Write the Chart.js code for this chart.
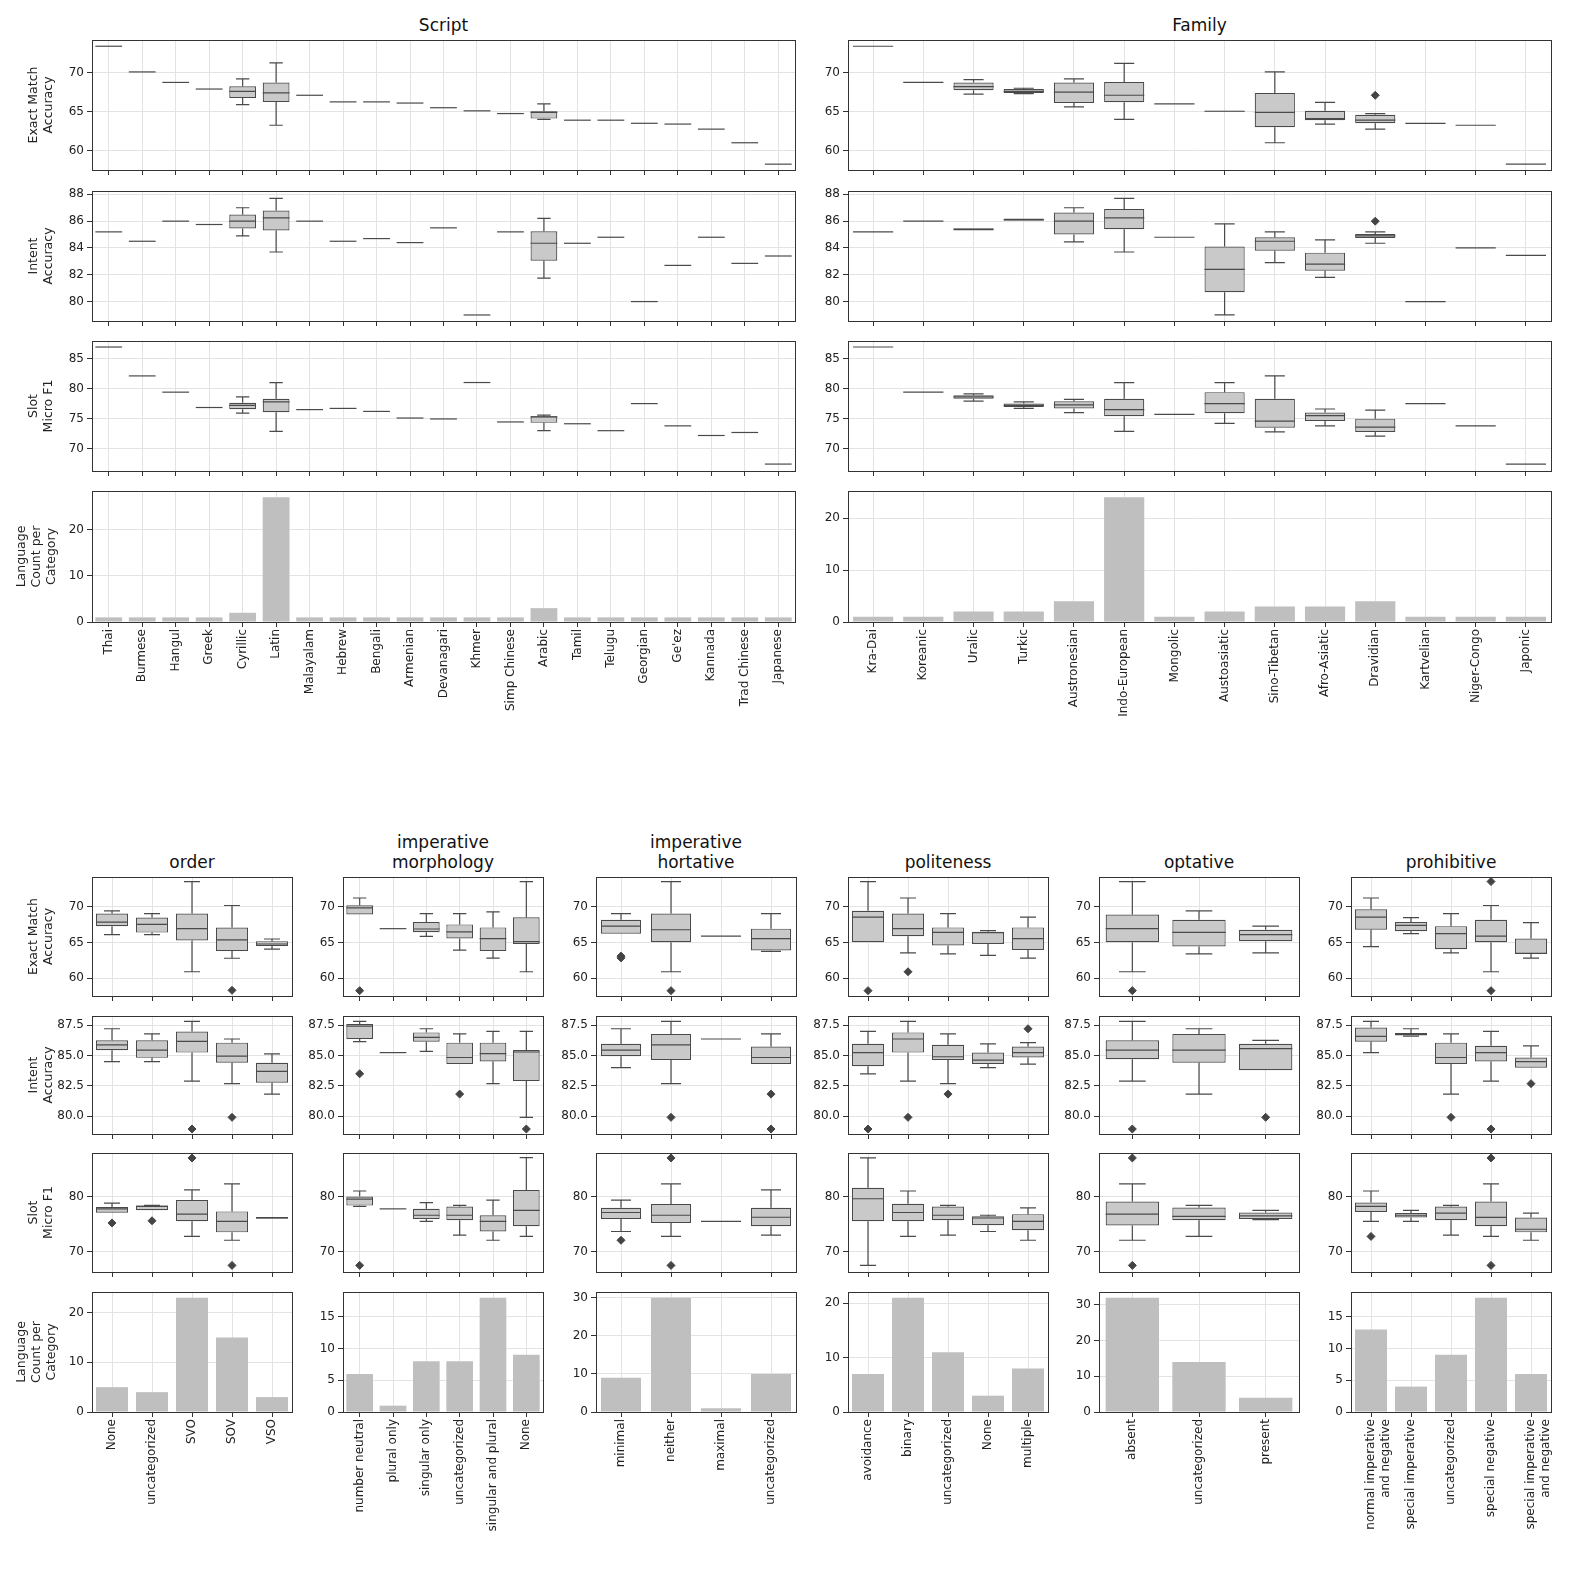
<!DOCTYPE html>
<html><head><meta charset="utf-8">
<script src="https://cdn.jsdelivr.net/npm/chart.js@4"></script>
<style>
html{overflow:hidden;width:1582px;height:1571px}
body{margin:0;background:#fff;width:1582px;height:1571px;position:relative;overflow:hidden;font-family:"DejaVu Sans",sans-serif}
canvas{position:absolute}
.t{position:absolute;font-size:17px;color:#111;text-align:center;line-height:20px;white-space:pre}
</style></head><body>
<script>
// ---------- DATA ----------
const scriptCats=["Thai","Burmese","Hangul","Greek","Cyrillic","Latin","Malayalam","Hebrew","Bengali","Armenian","Devanagari","Khmer","Simp Chinese","Arabic","Tamil","Telugu","Georgian","Ge'ez","Kannada","Trad Chinese","Japanese"];
const scriptEM=[73.4,70.1,68.75,67.9,[65.9,66.75,67.6,68.25,69.2],[63.25,66.25,67.4,68.75,71.25],67.1,66.25,66.25,66.1,65.5,65.1,64.75,[64,64.1,64.9,65.05,66],63.9,63.9,63.5,63.4,62.75,61,58.25];
const scriptIntent=[85.2,84.5,86.0,85.75,[84.9,85.45,86.0,86.5,87.0],[83.7,85.3,86.25,86.8,87.7],86.0,84.5,84.7,84.4,85.5,79.0,85.2,[81.75,83.05,84.35,85.25,86.2],84.35,84.8,80.0,82.7,84.8,82.85,83.4];
const scriptSlot=[86.9,82.1,79.4,76.85,[75.9,76.55,77.2,77.65,78.6],[72.9,76.05,77.8,78.3,81.0],76.5,76.7,76.2,75.1,74.95,81.0,74.45,[73.0,74.3,75.3,75.4,75.6],74.15,73.0,77.5,73.8,72.2,72.7,67.45];
const scriptCount=[1,1,1,1,2,27,1,1,1,1,1,1,1,3,1,1,1,1,1,1,1];

const familyCats=["Kra-Dai","Koreanic","Uralic","Turkic","Austronesian","Indo-European","Mongolic","Austoasiatic","Sino-Tibetan","Afro-Asiatic","Dravidian","Kartvelian","Niger-Congo","Japonic"];
const familyEM=[73.4,68.75,[67.25,67.75,68.2,68.75,69.1],[67.3,67.4,67.6,67.9,68.0],[65.6,66.1,67.5,68.75,69.2],[64.0,66.2,67.1,68.8,71.2],66.0,[65.0,65.0,65.05,65.1,65.1],[61.0,63.0,64.9,67.4,70.1],[63.4,63.9,64.1,65.1,66.2],[62.75,63.5,63.9,64.6,64.75],63.5,63.25,58.25];
const familyEMOut=[[10,67.1]];
const familyIntent=[85.2,86.0,[85.3,85.3,85.4,85.45,85.45],[86.05,86.05,86.1,86.2,86.2],[84.45,85.0,86.0,86.65,87.0],[83.7,85.4,86.25,86.9,87.7],84.8,[79.0,80.7,82.4,84.1,85.8],[82.9,83.8,84.5,84.8,85.2],[81.8,82.3,82.8,83.65,84.6],[84.35,84.75,84.9,85.05,85.2],80.0,84.0,83.45];
const familyIntentOut=[[10,86.0]];
const familySlot=[86.9,79.4,[77.9,78.3,78.6,78.9,79.1],[76.7,76.95,77.2,77.5,77.8],[76.0,76.7,77.3,77.9,78.2],[72.9,75.4,76.5,78.3,81.0],75.7,[74.2,75.9,77.5,79.4,81.0],[72.8,73.5,74.6,78.3,82.1],[73.8,74.6,75.5,76.0,76.6],[72.1,72.8,73.6,75.0,76.4],77.5,73.8,67.45];
const familyCount=[1,1,2,2,4,24,1,2,3,3,4,1,1,1];

const orderCats=["None","uncategorized","SVO","SOV","VSO"];
const orderEM=[[66.1,67.3,67.87,69.07,69.45],[66.1,66.4,67.55,68.5,69.07],[60.9,65.3,66.95,69.07,73.56],[62.8,63.8,65.37,67.1,70.2],[64.07,64.5,64.8,65.2,65.5]];
const orderEMOut=[[3,58.3]];
const orderIntent=[[84.5,85.43,85.88,86.25,87.2],[84.5,84.81,85.45,86.25,86.78],[82.9,85.24,86.17,86.97,87.8],[82.69,84.41,84.95,86.06,86.36],[81.83,82.77,83.7,84.41,85.13]];
const orderIntentOut=[[2,78.96],[3,79.92]];
const orderSlot=[[77.06,77.06,77.76,78.1,78.8],[77.5,77.5,78.2,78.35,78.4],[72.76,75.5,76.8,79.35,81.2],[72.06,73.5,75.5,77.3,82.3],[76.0,76.0,76.1,76.3,76.3]];
const orderSlotOut=[[0,75.2],[1,75.6],[2,87.0],[3,67.5]];
const orderCount=[5,4,23,15,3];

const morphCats=["number neutral","plural only","singular only","uncategorized","singular and plural","None"];
const morphEM=[[68.94,68.94,69.86,70.23,71.25],66.95,[65.88,66.44,66.9,67.87,69.07],[63.94,65.56,66.5,67.55,69.07],[62.82,63.8,65.56,67.13,69.3],[60.9,64.8,65.14,68.56,73.56]];
const morphEMOut=[[0,58.25]];
const morphIntent=[[86.14,86.36,87.42,87.6,87.8],85.24,[85.35,86.14,86.5,86.9,87.2],[84.3,84.3,84.84,86.06,86.78],[82.69,84.52,85.16,86.06,86.99],[79.92,82.9,85.29,85.45,86.99]];
const morphIntentOut=[[0,83.5],[3,81.83],[5,78.96]];
const morphSlot=[[78.2,78.35,79.53,80.0,81.0],77.76,[75.5,75.9,76.6,77.76,78.9],[73.0,75.7,76.6,78.2,78.4],[72.06,73.65,75.5,76.6,79.35],[72.76,74.6,77.5,81.2,87.06]];
const morphSlotOut=[[0,67.5]];
const morphCount=[6,1,8,8,18,9];

const hortCats=["minimal","neither","maximal","uncategorized"];
const hortEM=[[66.25,66.25,67.3,68.2,69.07],[60.9,65.05,66.8,69.07,73.56],65.9,[63.75,63.9,65.56,66.95,69.07]];
const hortEMOut=[[0,63.1],[0,62.85],[1,58.25]];
const hortIntent=[[84.0,84.95,85.45,85.96,87.2],[82.69,84.63,85.88,86.78,87.8],86.36,[84.3,84.3,84.84,85.74,86.78]];
const hortIntentOut=[[1,79.92],[3,81.83],[3,78.96]];
const hortSlot=[[73.65,75.94,77.1,77.94,79.35],[72.76,75.2,76.6,78.65,82.3],75.5,[73.0,74.6,76.24,77.94,81.2]];
const hortSlotOut=[[0,72.06],[1,87.0],[1,67.5]];
const hortCount=[9,30,1,10];

const poliCats=["avoidance","binary","uncategorized","None","multiple"];
const poliEM=[[65.05,65.05,68.56,69.45,73.56],[63.56,65.9,66.95,69.07,71.25],[63.4,64.6,66.44,67.13,69.07],[63.2,64.8,66.4,66.5,66.67],[62.82,63.94,65.56,67.13,68.56]];
const poliEMOut=[[0,58.25],[1,60.9]];
const poliIntent=[[83.5,84.12,85.24,85.96,86.99],[82.9,85.24,86.36,86.9,87.8],[82.69,84.63,84.9,85.88,86.78],[84.0,84.3,84.63,85.24,85.96],[84.3,84.84,85.24,85.74,86.06]];
const poliIntentOut=[[0,78.96],[1,79.92],[2,81.83],[4,87.2]];
const poliSlot=[[67.5,75.5,79.6,81.6,87.0],[72.76,75.5,77.1,78.7,81.0],[73.0,75.7,76.6,78.2,78.4],[73.65,74.8,76.1,76.4,76.6],[72.06,73.9,75.5,76.8,77.94]];
const poliSlotOut=[];
const poliCount=[7,21,11,3,8];

const optCats=["absent","uncategorized","present"];
const optEM=[[60.9,65.05,66.95,68.94,73.56],[63.4,64.44,66.44,68.2,69.45],[63.56,65.2,66.1,66.8,67.3]];
const optEMOut=[[0,58.25]];
const optIntent=[[82.9,84.7,85.45,86.25,87.8],[81.83,84.41,85.45,86.78,87.2],[83.8,83.8,85.56,85.96,86.25]];
const optIntentOut=[[0,78.96],[2,79.92]];
const optSlot=[[72.06,74.76,76.8,79.1,82.3],[72.76,75.7,76.4,78.0,78.4],[75.8,75.9,76.5,77.1,77.5]];
const optSlotOut=[[0,87.0],[0,67.5]];
const optCount=[32,14,4];

const prohCats=[["normal imperative","and negative"],"special imperative","uncategorized","special negative",["special imperative","and negative"]];
const prohEM=[[64.44,66.8,68.56,69.67,71.25],[66.25,66.6,67.4,67.9,68.5],[63.56,64.07,66.25,67.3,69.07],[60.9,65.05,65.9,68.2,70.2],[62.82,63.4,63.5,65.56,67.8]];
const prohEMOut=[[3,73.56],[3,58.25]];
const prohIntent=[[85.24,86.14,86.57,87.3,87.8],[86.6,86.65,86.75,86.85,87.2],[81.83,84.3,84.84,86.06,86.78],[82.9,84.52,85.24,85.8,86.99],[84.0,84.0,84.5,84.84,85.8]];
const prohIntentOut=[[2,79.92],[3,78.96],[4,82.69]];
const prohSlot=[[75.5,77.2,78.2,78.9,81.0],[75.5,76.2,76.6,77.0,77.5],[73.0,75.7,77.0,78.2,78.4],[72.76,74.6,76.2,79.1,82.3],[72.06,73.5,74.06,76.2,77.0]];
const prohSlotOut=[[0,72.76],[3,87.0],[3,67.5]];
const prohCount=[13,4,9,18,6];

// ---------- DRAWING ----------
Chart.defaults.font.family='"DejaVu Sans", sans-serif';
Chart.defaults.font.size=12;
Chart.defaults.color='#222';
const LW=92, TP=9;
const frame={id:'frame',afterDraw(c){const a=c.chartArea,x=c.ctx;x.save();x.strokeStyle='#333';x.lineWidth=1;x.strokeRect(Math.round(a.left)+0.5,Math.round(a.top)+0.5,Math.round(a.width),Math.round(a.height));x.restore();}};
const boxParts={id:'boxParts',afterDatasetsDraw(c){
  const st=c.config.options.plugins.boxParts&&c.config.options.plugins.boxParts.stats; if(!st)return;
  const xs=c.scales.x,ys=c.scales.y,x=c.ctx;
  const hw=(xs.getPixelForValue(1)-xs.getPixelForValue(0))*0.8/2;
  x.save();x.strokeStyle='#4a4a4a';x.lineWidth=1.2;
  st.forEach((s,i)=>{const cx=xs.getPixelForValue(i);const p=v=>ys.getPixelForValue(v);
    x.beginPath();
    x.moveTo(cx,p(s[3]));x.lineTo(cx,p(s[4]));x.moveTo(cx,p(s[1]));x.lineTo(cx,p(s[0]));
    if(s[4]>s[3]){x.moveTo(cx-hw/2,p(s[4]));x.lineTo(cx+hw/2,p(s[4]));}
    if(s[0]<s[1]){x.moveTo(cx-hw/2,p(s[0]));x.lineTo(cx+hw/2,p(s[0]));}
    x.moveTo(cx-hw,p(s[2]));x.lineTo(cx+hw,p(s[2]));
    x.stroke();});
  x.restore();}};
function norm(a){return a.map(v=>typeof v==='number'?[v,v,v,v,v]:v);}
function panel(o){
  const bottom=o.bpad||8;
  const sw=(o.yTitle&&o.yTitle.length===3)?78:66;
  const step=o.step;
  let W=LW+o.w+4,H=TP+o.h+bottom,L=o.left-LW,T=o.top-TP;
  const make=()=>{
    const cv=document.createElement('canvas');
    cv.width=W;cv.height=H;cv.style.left=L+'px';cv.style.top=T+'px';
    document.body.appendChild(cv);
    let datasets,stats=null;
    if(o.stats){stats=norm(o.stats);
      datasets=[{type:'bar',data:stats.map(s=>[s[1],s[3]]),backgroundColor:'#c9c9c9',borderColor:'#4a4a4a',borderWidth:1.2,borderSkipped:false,barPercentage:0.8,categoryPercentage:1,grouped:false,order:2},
        {type:'line',parsing:false,normalized:true,data:(o.outs||[]).map(p=>({x:p[0],y:p[1]})),showLine:false,pointStyle:'rectRot',pointRadius:4,pointBackgroundColor:'#444',pointBorderColor:'#444',order:1}];
    } else {
      datasets=[{type:'bar',data:o.counts,backgroundColor:'#bfbfbf',barPercentage:0.8,categoryPercentage:1}];
    }
    const ch=new Chart(cv,{type:'bar',data:{labels:o.cats,datasets},
      options:{responsive:false,animation:false,devicePixelRatio:1,
        layout:{padding:{top:TP,right:4,left:LW-sw,bottom:0}},
        plugins:{legend:{display:false},tooltip:{enabled:false},boxParts:{stats}},
        scales:{
          x:{type:'category',offset:true,grid:{offset:false,color:'#e3e3e3',tickColor:'#333',tickLength:5},border:{display:false},
             ticks:{display:!!o.showX,minRotation:90,maxRotation:90,autoSkip:false,padding:2,color:'#222'},
             afterFit(s){s.height=bottom;s.paddingLeft=0;s.paddingRight=0;}},
          y:{min:o.min,max:o.max,grid:{color:'#e3e3e3',tickColor:'#333',tickLength:5},border:{display:false},
             ticks:{padding:3,color:'#222',callback:v=>o.fmt?v.toFixed(1):String(Math.round(v))},
             afterBuildTicks(s){const t=[];for(let v=Math.ceil(o.min/step-1e-9)*step;v<=o.max+1e-9;v+=step)t.push({value:+v.toFixed(4)});s.ticks=t;},
             title:{display:!!o.yTitle,text:o.yTitle,padding:{top:0,bottom:4},font:{size:12.5},color:'#222'},
             afterFit(s){s.width=sw;s.paddingTop=0;s.paddingBottom=0;}}
        }},
      plugins:[frame,boxParts]});
    return [cv,ch];
  };
  for(let k=0;k<3;k++){
    const [cv,ch]=make();
    const a=ch.chartArea;
    const dl=a.left-LW, dt=a.top-TP, dw=o.w-(a.right-a.left), dh=o.h-(a.bottom-a.top);
    if(k===2||(Math.abs(dl)<0.5&&Math.abs(dt)<0.5&&Math.abs(dw)<0.5&&Math.abs(dh)<0.5))break;
    ch.destroy();cv.remove();
    L=o.left-LW-dl; T=o.top-TP-dt; W=Math.round(W+dw); H=Math.round(H+dh);
  }
}
function title(txt,cx,top){const d=document.createElement('div');d.className='t';d.textContent=txt;d.style.left=(cx-100)+'px';d.style.width='200px';d.style.top=top+'px';document.body.appendChild(d);}

const EMr={min:57.5,max:74.2};
const INr={min:78.55,max:88.25};
const SLr={min:66.3,max:87.9};
// top
const topRows=[[40,130],[191,130],[341,130],[491,131]];
const topCols=[{left:92,w:703,cats:scriptCats,em:scriptEM,emo:[],it:scriptIntent,ito:[],sl:scriptSlot,slo:[],ct:scriptCount,cmax:28.35,title:'Script'},
               {left:848,w:703,cats:familyCats,em:familyEM,emo:familyEMOut,it:familyIntent,ito:familyIntentOut,sl:familySlot,slo:[],ct:familyCount,cmax:25.2,title:'Family'}];
topCols.forEach((c,ci)=>{
  title(c.title,c.left+c.w/2,15);
  const yt=ci===0;
  panel({left:c.left,top:topRows[0][0],w:c.w,h:topRows[0][1],cats:c.cats,stats:c.em,outs:c.emo,...EMr,step:5,yTitle:yt?['Exact Match','Accuracy']:''});
  panel({left:c.left,top:topRows[1][0],w:c.w,h:topRows[1][1],cats:c.cats,stats:c.it,outs:c.ito,...INr,step:2,yTitle:yt?['Intent','Accuracy']:''});
  panel({left:c.left,top:topRows[2][0],w:c.w,h:topRows[2][1],cats:c.cats,stats:c.sl,outs:c.slo,...SLr,step:5,yTitle:yt?['Slot','Micro F1']:''});
  panel({left:c.left,top:topRows[3][0],w:c.w,h:topRows[3][1],cats:c.cats,counts:c.ct,min:0,max:c.cmax,step:10,showX:true,bpad:110,yTitle:yt?['Language','Count per','Category']:''});
});
// bottom
const botRows=[[877,119],[1016,118],[1153,119],[1292,120]];
const botCols=[
 {left:92,t:'order',cats:orderCats,em:orderEM,emo:orderEMOut,it:orderIntent,ito:orderIntentOut,sl:orderSlot,slo:orderSlotOut,ct:orderCount,cmax:24.15,cs:10},
 {left:343,t:'imperative\nmorphology',cats:morphCats,em:morphEM,emo:morphEMOut,it:morphIntent,ito:morphIntentOut,sl:morphSlot,slo:morphSlotOut,ct:morphCount,cmax:18.9,cs:5},
 {left:596,t:'imperative\nhortative',cats:hortCats,em:hortEM,emo:hortEMOut,it:hortIntent,ito:hortIntentOut,sl:hortSlot,slo:hortSlotOut,ct:hortCount,cmax:31.5,cs:10},
 {left:848,t:'politeness',cats:poliCats,em:poliEM,emo:poliEMOut,it:poliIntent,ito:poliIntentOut,sl:poliSlot,slo:poliSlotOut,ct:poliCount,cmax:22.05,cs:10},
 {left:1099,t:'optative',cats:optCats,em:optEM,emo:optEMOut,it:optIntent,ito:optIntentOut,sl:optSlot,slo:optSlotOut,ct:optCount,cmax:33.6,cs:10},
 {left:1351,t:'prohibitive',cats:prohCats,em:prohEM,emo:prohEMOut,it:prohIntent,ito:prohIntentOut,sl:prohSlot,slo:prohSlotOut,ct:prohCount,cmax:18.9,cs:5}];
botCols.forEach((c,ci)=>{
  const w=200;
  title(c.t,c.left+w/2,c.t.includes('\n')?832:852);
  const yt=ci===0;
  panel({left:c.left,top:botRows[0][0],w,h:botRows[0][1],cats:c.cats,stats:c.em,outs:c.emo,...EMr,step:5,yTitle:yt?['Exact Match','Accuracy']:''});
  panel({left:c.left,top:botRows[1][0],w,h:botRows[1][1],cats:c.cats,stats:c.it,outs:c.ito,...INr,step:2.5,fmt:true,yTitle:yt?['Intent','Accuracy']:''});
  panel({left:c.left,top:botRows[2][0],w,h:botRows[2][1],cats:c.cats,stats:c.sl,outs:c.slo,...SLr,step:10,yTitle:yt?['Slot','Micro F1']:''});
  panel({left:c.left,top:botRows[3][0],w,h:botRows[3][1],cats:c.cats,counts:c.ct,min:0,max:c.cmax,step:c.cs,showX:true,bpad:150,yTitle:yt?['Language','Count per','Category']:''});
});
</script>
</body></html>
